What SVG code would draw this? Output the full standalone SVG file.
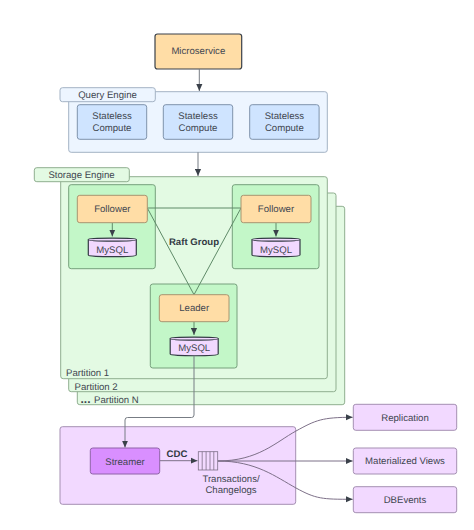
<svg xmlns="http://www.w3.org/2000/svg" width="474" height="530" viewBox="0 0 474 530">
<style>
text{font-family:"Liberation Sans",Arial,sans-serif;font-size:9.6px;fill:#3f4650;text-anchor:middle;text-rendering:geometricPrecision}
.l{text-anchor:start}
.b{font-weight:bold;fill:#333a44}
.orange{fill:#ffdda6;stroke:#a89470;stroke-width:1}
.blue{fill:#cfe4ff;stroke:#7f93ac;stroke-width:1}
.qe{fill:#edf5ff;stroke:#a3b2c4;stroke-width:1}
.part{fill:#e3fae3;stroke:#8fae8f;stroke-width:1}
.grp{fill:#c3f7c8;stroke:#76a07c;stroke-width:1}
.pur{fill:#f2d9ff;stroke:#a48fb2;stroke-width:1}
.db{fill:#f2d9ff;stroke:#333a44;stroke-width:1.2}
.line{fill:none;stroke:#777c84;stroke-width:1}
.raft{fill:none;stroke:#5f8a68;stroke-width:1}
.dbl{fill:none;stroke:#7d7088;stroke-width:1}
</style>
<defs>
<marker id="a" viewBox="0 0 8 8" refX="8" refY="4" markerWidth="7" markerHeight="7" markerUnits="userSpaceOnUse" orient="auto"><path d="M0 0.5L8 4L0 7.5z" fill="#3a414a"/></marker>
<path id="cyl" d="M0 2.5C0 0.7 48 0.7 48 2.5V18C48 20.3 0 20.3 0 18Z"/>
</defs>
<rect width="474" height="530" fill="#fff"/>

<g id="partition-n"><rect class="part" x="77.3" y="206.3" width="267.4" height="198.4" rx="2.5"/><text class="l" x="80.5" y="402.5" style="font-weight:bold;font-size:12px">...</text><text class="l" x="94" y="402.5">Partition N</text></g>
<g id="partition-2"><rect class="part" x="68.7" y="193" width="267.3" height="198.7" rx="2.5"/><text class="l" x="74.5" y="389.5">Partition 2</text></g>
<g id="partition-1"><rect class="part" x="60.7" y="176.7" width="266.6" height="202" rx="2.5"/><text class="l" x="66" y="375.5">Partition 1</text></g>
<g id="storage-engine"><rect class="part" x="34.3" y="167.7" width="95" height="14" rx="2.5"/><text x="81.5" y="178">Storage Engine</text></g>

<g id="query-engine"><rect class="qe" x="68.7" y="91.7" width="258.6" height="60.6" rx="2.5"/><rect class="qe" x="60" y="87.7" width="95.3" height="14" rx="2.5"/><text x="107.5" y="98">Query Engine</text></g>
<g id="microservice"><rect x="155" y="34" width="86.7" height="35" rx="2.5" fill="#ffdda6" stroke="#3a414a" stroke-width="1.2"/><text x="198.3" y="54">Microservice</text></g>
<g id="compute-1"><rect class="blue" x="77.3" y="104.7" width="69.4" height="34.6" rx="2.5"/><text x="112" y="119">Stateless</text><text x="112" y="130.5">Compute</text></g>
<g id="compute-2"><rect class="blue" x="163.3" y="104.7" width="69.4" height="34.6" rx="2.5"/><text x="198" y="119">Stateless</text><text x="198" y="130.5">Compute</text></g>
<g id="compute-3"><rect class="blue" x="249.7" y="104.7" width="69.4" height="34.6" rx="2.5"/><text x="284.4" y="119">Stateless</text><text x="284.4" y="130.5">Compute</text></g>

<g id="group-left"><rect class="grp" x="68.7" y="184.7" width="86.6" height="84" rx="2.5"/></g>
<g id="group-right"><rect class="grp" x="232.3" y="184.7" width="86.7" height="84" rx="2.5"/></g>
<g id="group-leader"><rect class="grp" x="150.3" y="284" width="86.7" height="84" rx="2.5"/></g>
<g id="cdc-box"><rect class="pur" x="60" y="426.7" width="235.7" height="77.6" rx="2.5"/></g>

<g id="connectors">
<path class="line" d="M199.3 69V91" marker-end="url(#a)"/>
<path class="line" d="M198 152.3V176" marker-end="url(#a)"/>
<path class="raft" d="M147.3 208H241L194 294.7L147.3 208"/>
<path class="raft" d="M112.3 222.7V236.5" marker-end="url(#a)"/>
<path class="raft" d="M276 222.7V236.5" marker-end="url(#a)"/>
<path class="raft" d="M194 321.7V335" marker-end="url(#a)"/>
<path class="line" d="M194 356.3V415a2.5 2.5 0 0 1-2.5 2.5H127.5a2.5 2.5 0 0 0-2.5 2.5V447.5" marker-end="url(#a)"/>
<path class="dbl" d="M159.7 460.7H197.5" marker-end="url(#a)"/>
<path class="dbl" d="M217.7 461C258 461 276 442 296 431S322 417.3 352.7 417.3" marker-end="url(#a)"/>
<path class="dbl" d="M217.7 461H352.7" marker-end="url(#a)"/>
<path class="dbl" d="M217.7 461C256 461 276 477 296 488S322 499.3 352.7 499.3" marker-end="url(#a)"/>
</g>

<g id="follower-left"><rect class="orange" x="77.3" y="195.3" width="70" height="27.4" rx="2.5"/><text x="112.3" y="211.5">Follower</text></g>
<g id="follower-right"><rect class="orange" x="241" y="195.3" width="70" height="27.4" rx="2.5"/><text x="276" y="211.5">Follower</text></g>
<g id="leader"><rect class="orange" x="159.3" y="294.7" width="69.7" height="27" rx="2.5"/><text x="194.2" y="310.5">Leader</text></g>
<g id="mysql-left"><use href="#cyl" class="db" x="88.3" y="237"/><path class="db" d="M88.3 239.5C88.3 241.7 136.3 241.7 136.3 239.5" fill="none"/><text x="112.3" y="252.5">MySQL</text></g>
<g id="mysql-right"><use href="#cyl" class="db" x="252" y="237"/><path class="db" d="M252 239.5C252 241.7 300 241.7 300 239.5" fill="none"/><text x="276" y="252.5">MySQL</text></g>
<g id="mysql-leader"><use href="#cyl" class="db" x="170.2" y="336"/><path class="db" d="M170.2 338.5C170.2 340.7 218.2 340.7 218.2 338.5" fill="none"/><text x="194.2" y="351">MySQL</text></g>
<text id="raft-label" class="b" x="194" y="244.5">Raft Group</text>

<g id="streamer"><rect x="90.3" y="448" width="69.4" height="26" rx="2.5" fill="#d98fff" stroke="#8f63a8"/><text x="125" y="464.5">Streamer</text></g>
<text id="cdc-label" class="b" x="177" y="456.5">CDC</text>
<g id="queue"><rect x="198.3" y="451.7" width="19.4" height="18.3" fill="#f2d9ff" stroke="#7d7088" stroke-width=".8"/><path d="M202.2 451.7V470M206.1 451.7V470M210 451.7V470M213.8 451.7V470" fill="none" stroke="#7d7088" stroke-width=".8"/></g>
<text x="231" y="481.5">Transactions/</text><text x="231" y="492.5">Changelogs</text>
<g id="replication"><rect class="pur" x="353.3" y="404.3" width="103.4" height="26" rx="2.5"/><text x="405" y="420.5">Replication</text></g>
<g id="materialized-views"><rect class="pur" x="353.3" y="448" width="103.4" height="26" rx="2.5"/><text x="405" y="464">Materialized Views</text></g>
<g id="dbevents"><rect class="pur" x="353.3" y="486.7" width="103.4" height="26" rx="2.5"/><text x="405" y="502.5">DBEvents</text></g>
</svg>
